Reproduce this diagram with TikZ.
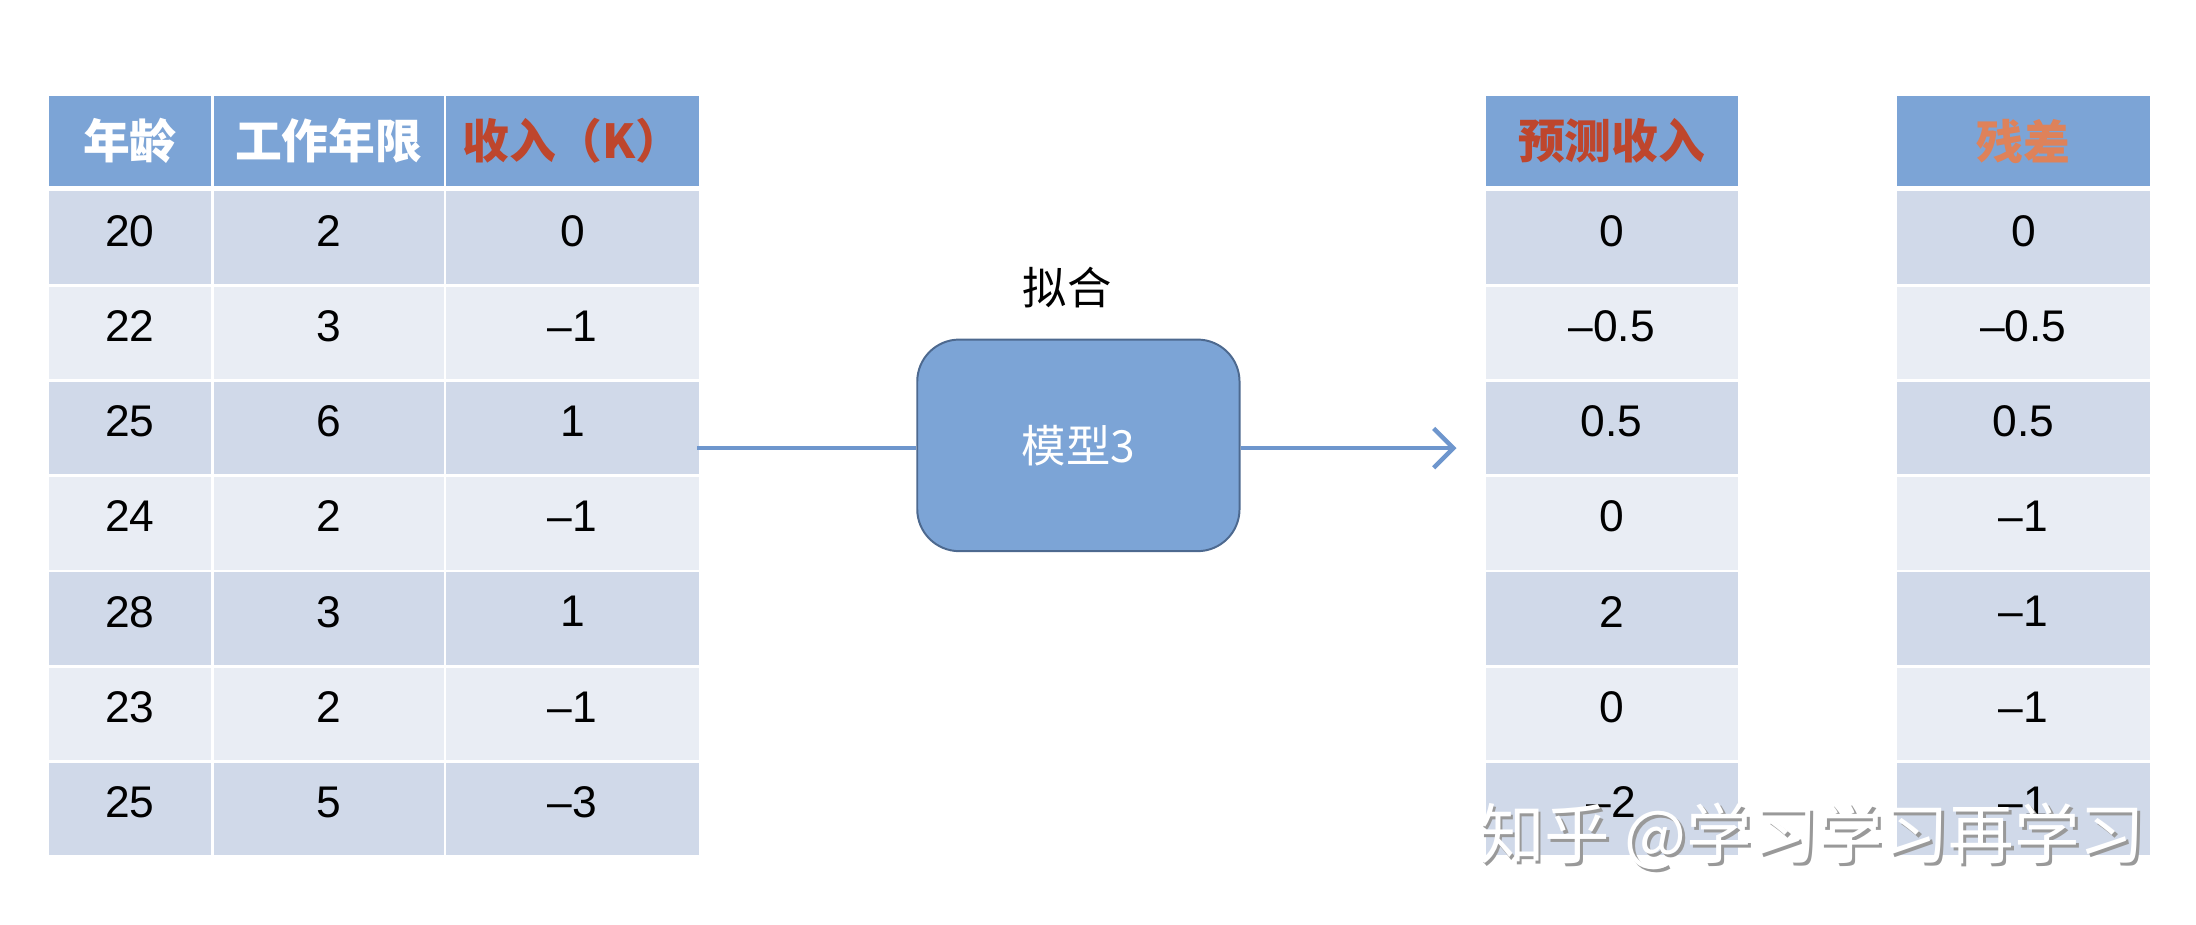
\documentclass[tikz,border=0pt]{standalone}
\usepackage{fontspec}
\setmainfont{Liberation Sans}
\newfontfamily\cjk{Noto Sans CJK SC}
\usetikzlibrary{arrows.meta}
\definecolor{hdr}{RGB}{124,164,214}
\definecolor{rowA}{RGB}{208,217,233}
\definecolor{rowB}{RGB}{233,237,244}
\definecolor{redt}{RGB}{190,70,45}
\definecolor{orgt}{RGB}{222,130,90}
\definecolor{lnc}{RGB}{110,150,205}
\tikzset{
 cell/.style={inner sep=0pt,font=\fontsize{9}{10}\selectfont},
 hcell/.style={cell,fill=hdr,text=white,font=\cjk\bfseries\fontsize{9.5}{11}\selectfont},
 model/.style={draw=lnc!70!black,fill=hdr,rounded corners=0.3cm,text=white,font=\cjk\fontsize{9}{10}\selectfont,inner sep=0pt,minimum width=2.3cm,minimum height=1.51cm},
 conn/.style={lnc,line width=0.9pt},
 wmark/.style={font=\cjk\fontsize{13.3}{15}\selectfont,inner sep=0pt},
}
\begin{document}
\begin{tikzpicture}[x=0.01cm,y=-0.01cm]
\useasboundingbox (0,0) rectangle (1568,660);
\node[hcell,minimum width=1.16cm,minimum height=0.64cm,anchor=north west] (h1) at (34,68) {年龄};
\node[hcell,minimum width=1.64cm,minimum height=0.64cm,anchor=north west] (h2) at (152,68) {工作年限};
\node[hcell,minimum width=1.80cm,minimum height=0.64cm,anchor=north west,text=redt] (h3) at (318,68) {收入（K）};
\node[hcell,minimum width=1.80cm,minimum height=0.64cm,anchor=north west,text=redt] (h4) at (1060,68) {预测收入};
\node[hcell,minimum width=1.80cm,minimum height=0.64cm,anchor=north west,text=orgt] (h5) at (1354,68) {残差};
\foreach \i/\a/\b/\c/\d/\e in {0/20/2/0/0/0,1/22/3/–1/–0.5/–0.5,2/25/6/1/0.5/0.5,3/24/2/–1/0/–1,4/28/3/1/2/–1,5/23/2/–1/0/–1,6/25/5/–3/–2/–1}{
  \pgfmathsetmacro{\yy}{136+68*\i}
  \pgfmathtruncatemacro{\pty}{mod(\i,2)}
  \ifnum\pty=0 \def\rc{rowA}\else\def\rc{rowB}\fi
  \node[cell,fill=\rc,minimum width=1.16cm,minimum height=0.66cm,anchor=north west] (a\i) at (34,\yy) {\raisebox{0.6ex}{\a}};
  \node[cell,fill=\rc,minimum width=1.64cm,minimum height=0.66cm,anchor=north west] (b\i) at (152,\yy) {\raisebox{0.6ex}{\b}};
  \node[cell,fill=\rc,minimum width=1.80cm,minimum height=0.66cm,anchor=north west] (c\i) at (318,\yy) {\raisebox{0.6ex}{\c}};
  \node[cell,fill=\rc,minimum width=1.80cm,minimum height=0.66cm,anchor=north west] (d\i) at (1060,\yy) {\raisebox{0.6ex}{\d}};
  \node[cell,fill=\rc,minimum width=1.80cm,minimum height=0.66cm,anchor=north west] (e\i) at (1354,\yy) {\raisebox{0.6ex}{\e}};
}
\node[model] (m) at (770,318) {模型3};
\node[font=\cjk\fontsize{9}{10}\selectfont] (fit) at (762,205) {拟合};
\coordinate (src) at (498,320);
\coordinate (dst) at (1040,320);
\draw[conn] (src) -- (m.west |- src);
\draw[conn,-{Straight Barb[length=4pt,width=8pt]}] (m.east |- dst) -- (dst);
\node[wmark,text=gray!80] (wms) at (1296,599) {知乎 @学习学习再学习};
\node[wmark,text=white] (wm) at (1294,597) {知乎 @学习学习再学习};
\end{tikzpicture}
\end{document}
